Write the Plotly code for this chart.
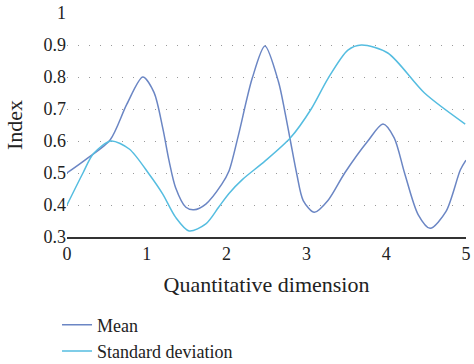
import plotly.graph_objects as go

mean_x = [0, 0.25, 0.54, 0.75, 0.95, 1.09, 1.2, 1.28, 1.36, 1.49, 1.59, 1.74, 1.94, 2.03, 2.15, 2.32, 2.48,
          2.65, 2.73, 2.8, 2.88, 2.96, 3.1, 3.27, 3.48, 3.77, 3.96, 4.1, 4.23, 4.4, 4.55, 4.75, 4.93, 5]
mean_y = [0.5, 0.545, 0.603, 0.715, 0.80, 0.752, 0.64, 0.537, 0.455, 0.393, 0.385, 0.403, 0.465, 0.506, 0.62, 0.795, 0.897,
          0.785, 0.692, 0.6, 0.496, 0.414, 0.377, 0.414, 0.50, 0.60, 0.653, 0.61, 0.50, 0.37, 0.327, 0.38, 0.51, 0.54]

std_x = [0, 0.2, 0.33, 0.55, 0.78, 1.03, 1.2, 1.36, 1.53, 1.74, 1.9, 2.03, 2.2, 2.48, 2.8, 3.06, 3.27, 3.52, 3.69, 4.02, 4.48, 4.99]
std_y = [0.4, 0.5, 0.56, 0.60, 0.575, 0.496, 0.434, 0.362, 0.319, 0.341, 0.393, 0.436, 0.48, 0.537, 0.61, 0.70, 0.795, 0.884, 0.90, 0.875, 0.75, 0.653]

y_ticks = [0.3, 0.4, 0.5, 0.6, 0.7, 0.8, 0.9, 1.0]
y_labels = ["0.3", "0.4", "0.5", "0.6", "0.7", "0.8", "0.9", "1"]
x_ticks = [0, 1, 2, 3, 4, 5]
x_labels = ["0", "1", "2", "3", "4", "5"]

FONT = "Liberation Serif"

fig = go.Figure()
fig.add_trace(go.Scatter(x=mean_x, y=mean_y, mode="lines", name="Mean",
                         line=dict(color="#6b86c4", width=1.5, shape="spline", smoothing=0.8)))
fig.add_trace(go.Scatter(x=std_x, y=std_y, mode="lines", name="Standard deviation",
                         line=dict(color="#55bde0", width=1.5, shape="spline", smoothing=0.8)))

fig.update_layout(
    width=474, height=364,
    margin=dict(l=67, r=8, t=13, b=127, autoexpand=False),
    paper_bgcolor="white", plot_bgcolor="white",
    font=dict(family=FONT, size=18, color="#222222"),
    showlegend=True,
    legend=dict(x=-0.025, y=-0.31, xanchor="left", yanchor="top",
                bgcolor="rgba(0,0,0,0)", font=dict(family=FONT, size=18),
                tracegroupgap=0),
    xaxis=dict(range=[0, 5], tickvals=x_ticks, ticktext=x_labels, automargin=False,
               showgrid=False, zeroline=False, showline=True, linecolor="#333333", linewidth=1.5,
               ticks="", title=dict(text="Quantitative dimension", standoff=13),
               tickfont=dict(family=FONT, size=18)),
    yaxis=dict(range=[0.3, 1.0], tickvals=y_ticks, ticktext=y_labels, automargin=False,
               showgrid=True, gridcolor="#999999", gridwidth=1.2, griddash="1px,10px",
               zeroline=False, showline=False, ticks="",
               title=dict(text="Index", standoff=14),
               tickfont=dict(family=FONT, size=18)),
)

fig.write_html("out.html", config={"displayModeBar": False},
               post_script="document.body.style.margin='0';")
